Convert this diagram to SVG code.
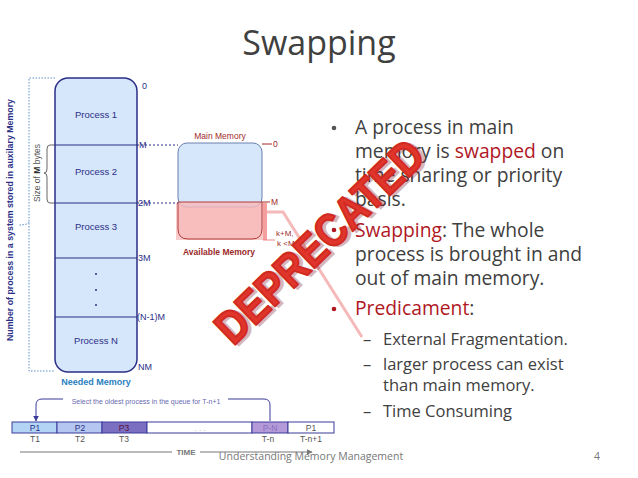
<svg xmlns="http://www.w3.org/2000/svg" width="638" height="478" viewBox="0 0 638 478">
<defs>
<style>
.t{font-family:"Liberation Sans",Arial,sans-serif}
.b{font-family:"Open Sans","Noto Sans",sans-serif;fill:#404040}
.red{fill:#b0171f}
.proc{font-size:9.5px;fill:#2b2f86}
.lbl{font-size:9px;fill:#2b2f86}
.mm{font-size:8.5px;fill:#9e2a2b}
.cell{stroke:#3b3b9b;stroke-width:1}
.tl{font-size:8.5px;fill:#555}
.dot{stroke:#2b2f86;stroke-width:1;stroke-dasharray:2 2;fill:none}
</style>
<marker id="ah" viewBox="0 0 10 10" refX="9" refY="5" markerWidth="6" markerHeight="6" orient="auto"><path d="M0,0 L10,5 L0,10 z" fill="#3b3b9b"/></marker>
<marker id="ag" viewBox="0 0 10 10" refX="9" refY="5" markerWidth="6" markerHeight="6" orient="auto"><path d="M0,0 L10,5 L0,10 z" fill="#777"/></marker>
</defs>
<rect width="638" height="478" fill="#fff"/>

<g id="title"><text class="b" x="319" y="55" font-size="34" text-anchor="middle">Swapping</text></g>

<g id="aux-label">
<path d="M55,78 H29 V371 H55" fill="none" stroke="#5a8fc9" stroke-width="1" stroke-dasharray="1.5 1.5"/>
<path d="M29,222 Q28,225 18,225" fill="none" stroke="#5a8fc9" stroke-width="1" stroke-dasharray="1.5 1.5"/>
<text class="t" transform="translate(13,220) rotate(-90)" text-anchor="middle" font-size="8.5" font-weight="bold" fill="#2b2f86" textLength="242" lengthAdjust="spacingAndGlyphs">Number of process in a system stored in auxilary Memory</text>
</g>

<g id="size-label">
<path d="M55,145 H50 Q47,145 47,149 V169 Q47,173 44,173 Q47,173 47,177 V199 Q47,203 50,203 H55" fill="none" stroke="#666" stroke-width="1"/>
<text class="t" transform="translate(40,173) rotate(-90)" text-anchor="middle" font-size="8.5" fill="#555">Size of <tspan font-weight="bold" fill="#333">M</tspan> bytes</text>
</g>

<g id="needed-memory">
<rect x="55" y="78" width="82" height="294" rx="13" fill="#d6e6fb" stroke="#2b2f86" stroke-width="1.5"/>
<line x1="55" y1="145" x2="137" y2="145" stroke="#2b2f86" stroke-width="1.2"/>
<line x1="55" y1="203" x2="137" y2="203" stroke="#2b2f86" stroke-width="1.2"/>
<line x1="55" y1="258" x2="137" y2="258" stroke="#2b2f86" stroke-width="1.2"/>
<line x1="55" y1="317" x2="137" y2="317" stroke="#2b2f86" stroke-width="1.2"/>
<text class="t proc" x="96" y="118" text-anchor="middle">Process 1</text>
<text class="t proc" x="96" y="175" text-anchor="middle">Process 2</text>
<text class="t proc" x="96" y="230" text-anchor="middle">Process 3</text>
<circle cx="96" cy="274" r="1" fill="#2b2f86"/>
<circle cx="96" cy="290" r="1" fill="#2b2f86"/>
<circle cx="96" cy="305" r="1" fill="#2b2f86"/>
<text class="t proc" x="96" y="344" text-anchor="middle">Process N</text>
<text class="t lbl" x="142" y="89">0</text>
<text class="t lbl" x="139" y="148">M</text>
<text class="t lbl" x="138" y="206">2M</text>
<text class="t lbl" x="138" y="261">3M</text>
<text class="t lbl" x="137" y="320">(N-1)M</text>
<text class="t lbl" x="138" y="370">NM</text>
<text class="t" x="96" y="385" text-anchor="middle" font-size="9" font-weight="bold" fill="#2a7fc0">Needed  Memory</text>
</g>

<g id="main-memory">
<text class="t mm" x="220" y="139" text-anchor="middle">Main Memory</text>
<rect x="176" y="203" width="91" height="37" fill="#f4a0a0" opacity="0.55"/>
<rect x="178" y="143" width="84" height="64" rx="9" fill="#d6e6fb" stroke="#6b80b0" stroke-width="1"/>
<path d="M178,202 H262 V229 Q262,239 252,239 H188 Q178,239 178,229 Z" fill="#f7b9b9" fill-opacity="0.8" stroke="#b03a3a" stroke-width="1"/>
<line x1="262" y1="144" x2="272" y2="144" stroke="#9e2a2b" stroke-width="1"/>
<text class="t mm" x="273" y="147">0</text>
<line x1="262" y1="202" x2="270" y2="202" stroke="#9e2a2b" stroke-width="1"/>
<text class="t mm" x="271" y="205">M</text>
<rect x="263" y="203" width="4" height="37" fill="#f08080" opacity="0.6"/>
<line x1="263" y1="240" x2="275" y2="240" stroke="#f08080" stroke-width="1.2" opacity="0.8"/>
<text class="t" x="276" y="236" font-size="8" fill="#9e2a2b">k+M,</text>
<text class="t" x="277" y="246" font-size="8" fill="#9e2a2b">k &lt;M</text>
<text class="t" x="219" y="255" text-anchor="middle" font-size="8.5" font-weight="bold" fill="#9b2a2a">Available Memory</text>
</g>

<g id="connectors">
<line x1="137" y1="145" x2="178" y2="145" class="dot"/>
<line x1="137" y1="203" x2="178" y2="203" class="dot"/>
<path d="M267,212 H283 L362,337" fill="none" stroke="#f08a8a" stroke-width="3" opacity="0.6"/>
<path d="M228,399 H264 Q270,399 270,405 V421" fill="none" stroke="#3b3b9b" stroke-width="1"/>
<path d="M63,399 H42 Q36,399 36,405 V421" fill="none" stroke="#3b3b9b" stroke-width="1" marker-end="url(#ah)"/>
<line x1="20" y1="452" x2="172" y2="452" stroke="#777" stroke-width="1"/>
<line x1="200" y1="452" x2="312" y2="452" stroke="#777" stroke-width="1" marker-end="url(#ag)"/>
</g>

<g id="timeline">
<text class="t" x="146" y="404" text-anchor="middle" font-size="7" fill="#6a6ab0">Select the oldest process in the queue for T-n+1</text>
<rect class="cell" x="12" y="422" width="45" height="11" fill="#b3d4f5"/>
<rect class="cell" x="57" y="422" width="45" height="11" fill="#b5c7f0"/>
<rect class="cell" x="102" y="422" width="45" height="11" fill="#7a6fc0"/>
<rect class="cell" x="147" y="422" width="105" height="11" fill="#fff"/>
<rect class="cell" x="252" y="422" width="36" height="11" fill="#b49ad8"/>
<rect class="cell" x="288" y="422" width="46" height="11" fill="#fff"/>
<text class="t" x="35" y="431" text-anchor="middle" font-size="8.5" fill="#2b2f86">P1</text>
<text class="t" x="80" y="431" text-anchor="middle" font-size="8.5" fill="#2b2f86">P2</text>
<text class="t" x="124" y="431" text-anchor="middle" font-size="8.5" fill="#5a1040">P3</text>
<text class="t" x="200" y="431" text-anchor="middle" font-size="8" fill="#aaa">. . .</text>
<text class="t" x="270" y="431" text-anchor="middle" font-size="8.5" fill="#8a70c0">P-N</text>
<text class="t" x="311" y="431" text-anchor="middle" font-size="8.5" fill="#555">P1</text>
<text class="t tl" x="35" y="442" text-anchor="middle">T1</text>
<text class="t tl" x="80" y="442" text-anchor="middle">T2</text>
<text class="t tl" x="124" y="442" text-anchor="middle">T3</text>
<text class="t tl" x="268" y="442" text-anchor="middle">T-n</text>
<text class="t tl" x="311" y="442" text-anchor="middle">T-n+1</text>
<text class="t" x="186" y="455" text-anchor="middle" font-size="8" font-weight="bold" fill="#777">TIME</text>
</g>

<g id="bullets">
<circle cx="334" cy="128" r="2.3" fill="#555"/>
<text class="b" x="355" y="134" font-size="19.3">A process in main</text>
<text class="b" x="355" y="158" font-size="19.3">memory is <tspan class="red">swapped</tspan> on</text>
<text class="b" x="355" y="182" font-size="19.3">time sharing or priority</text>
<text class="b" x="355" y="206" font-size="19.3">basis.</text>
<circle cx="334" cy="230" r="2.3" fill="#b0171f"/>
<text class="b" x="355" y="237" font-size="19.3"><tspan class="red">Swapping</tspan>: The whole</text>
<text class="b" x="355" y="261" font-size="19.3">process is brought in and</text>
<text class="b" x="355" y="285" font-size="19.3">out of main memory.</text>
<circle cx="334" cy="309" r="2.3" fill="#b0171f"/>
<text class="b" x="355" y="315" font-size="19.3"><tspan class="red">Predicament</tspan>:</text>
<text class="b" x="363" y="345" font-size="16.5">–</text>
<text class="b" x="383" y="345" font-size="16.5">External Fragmentation.</text>
<text class="b" x="363" y="370" font-size="16.5">–</text>
<text class="b" x="383" y="370" font-size="16.5">larger  process can exist</text>
<text class="b" x="383" y="391" font-size="16.5">than main memory.</text>
<text class="b" x="363" y="417" font-size="16.5">–</text>
<text class="b" x="383" y="417" font-size="16.5">Time Consuming</text>
</g>

<g id="stamp" transform="translate(320,242) rotate(-44)">
<text class="t" x="2" y="18" text-anchor="middle" font-size="46" font-weight="bold" fill="#7a1010" opacity="0.3" stroke="#7a1010" stroke-width="2" textLength="270" lengthAdjust="spacingAndGlyphs">DEPRECATED</text>
<text class="t" x="0" y="15" text-anchor="middle" font-size="46" font-weight="bold" fill="#e0352b" stroke="#d02a22" stroke-width="2" stroke-linejoin="round" textLength="270" lengthAdjust="spacingAndGlyphs">DEPRECATED</text>
</g>

<g id="footer">
<text class="b" x="311" y="460" text-anchor="middle" font-size="10.5" style="fill:#777">Understanding Memory Management</text>
<text class="b" x="597" y="460" text-anchor="middle" font-size="10.5" style="fill:#777">4</text>
</g>
</svg>
